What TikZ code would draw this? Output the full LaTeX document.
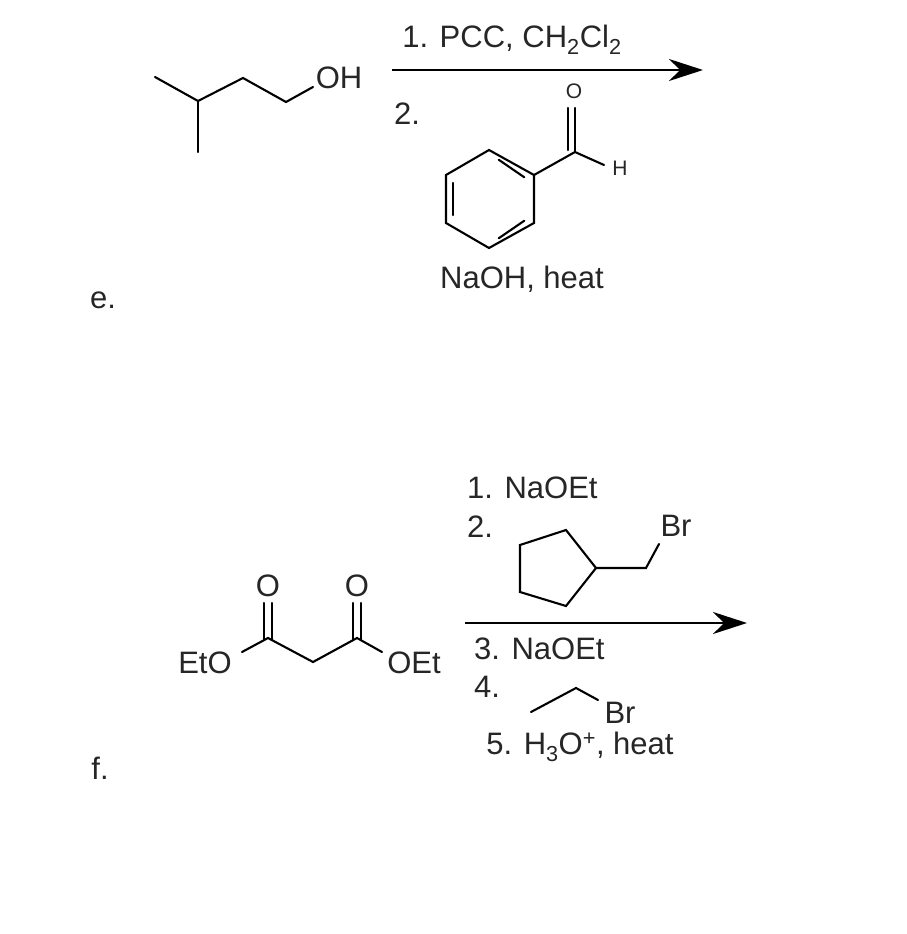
\documentclass[tikz,border=0pt]{standalone}
\usepackage{fontspec}
\setmainfont{Liberation Sans}
\usetikzlibrary{arrows.meta,calc}
\begin{document}
\begin{tikzpicture}[x=1pt,y=-1pt,
  bond/.style={line width=2.1pt,line cap=round},
  lbl/.style={font=\fontsize{31}{36}\selectfont,inner sep=0pt,text=black!85},
  sml/.style={font=\fontsize{21}{24}\selectfont,inner sep=0pt,text=black!85},
  rxn/.style={line width=2.1pt,-{Stealth[length=34pt,width=22pt]}}]
\useasboundingbox[fill=white] (0,0) rectangle (906,934);
% e
\node[lbl] (e) at (103,300) {e.};
\coordinate (a1) at (155,77); \coordinate (a2) at (198,101); \coordinate (a3) at (198,152);
\coordinate (a4) at (243,78); \coordinate (a5) at (286,102); \coordinate (a6) at (313,87);
\draw[bond] (a1)--(a2)--(a4)--(a5)--(a6); \draw[bond] (a2)--(a3);
\node[lbl] (oh) at (339,78) {OH};
\coordinate (r1s) at (392,70); \coordinate (r1e) at (703,70);
\draw[rxn] (r1s)--(r1e);
\node[lbl] (t1) at (512,40) {1. PCC, CH\textsubscript{2}Cl\textsubscript{2}};
\node[lbl] (t2) at (407,114) {2.};
\coordinate (b1) at (489,150); \coordinate (b2) at (534,175); \coordinate (b3) at (534,223);
\coordinate (b4) at (489,248); \coordinate (b5) at (446,223); \coordinate (b6) at (446,175);
\draw[bond] (b1)--(b2)--(b3)--(b4)--(b5)--(b6)--cycle;
\draw[bond] ($(b1)!0.15!(b2)+(3,6)$) -- ($(b1)!0.85!(b2)+(-3,6)$);
\draw[bond] ($(b3)!0.15!(b4)+(-3,-6)$) -- ($(b3)!0.85!(b4)+(3,-6)$);
\draw[bond] (453,183) -- (453,215);
\coordinate (c) at (575,152); \coordinate (co) at (575,108); \coordinate (ch) at (604,165);
\draw[bond] (b2)--(c)--(ch); \draw[bond] (c)--(co); \draw[bond] (568,150)--(568,108);
\node[sml] (o1) at (574,91) {O};
\node[sml] (h1) at (620,168) {H};
\node[lbl] (t3) at (522,279) {NaOH, heat};
% f
\node[lbl] (f) at (100,768) {f.};
\node[lbl] (eto) at (205,663) {EtO};
\node[lbl] (oet) at (414,663) {OEt};
\coordinate (m1) at (242,652); \coordinate (m2) at (268,638); \coordinate (m3) at (313,662);
\coordinate (m4) at (357,638); \coordinate (m5) at (382,652);
\draw[bond] (m1)--(m2)--(m3)--(m4)--(m5);
\draw[bond] (264,640)--(264,603) (272,640)--(272,603);
\draw[bond] (353,640)--(353,603) (361,640)--(361,603);
\node[lbl] (o2) at (268,586) {O};
\node[lbl] (o3) at (357,586) {O};
\coordinate (r2s) at (465,623); \coordinate (r2e) at (747,623);
\draw[rxn] (r2s)--(r2e);
\node[lbl,anchor=west] (u1) at (467,488) {1. NaOEt};
\node[lbl,anchor=west] (u2) at (467,527) {2.};
\coordinate (p1) at (566,530); \coordinate (p2) at (596,568); \coordinate (p3) at (566,606);
\coordinate (p4) at (520,592); \coordinate (p5) at (520,545);
\draw[bond] (p1)--(p2)--(p3)--(p4)--(p5)--cycle;
\coordinate (p6) at (646,568); \coordinate (p7) at (659,544);
\draw[bond] (p2)--(p6)--(p7);
\node[lbl] (br1) at (676,526) {Br};
\node[lbl,anchor=west] (u3) at (474,649) {3. NaOEt};
\node[lbl,anchor=west] (u4) at (474,687) {4.};
\coordinate (q1) at (531,712); \coordinate (q2) at (576,688); \coordinate (q3) at (598,700);
\draw[bond] (q1)--(q2)--(q3);
\node[lbl] (br2) at (620,713) {Br};
\node[lbl] (u5) at (580,747) {5. H\textsubscript{3}O\textsuperscript{+}, heat};
\end{tikzpicture}
\end{document}
